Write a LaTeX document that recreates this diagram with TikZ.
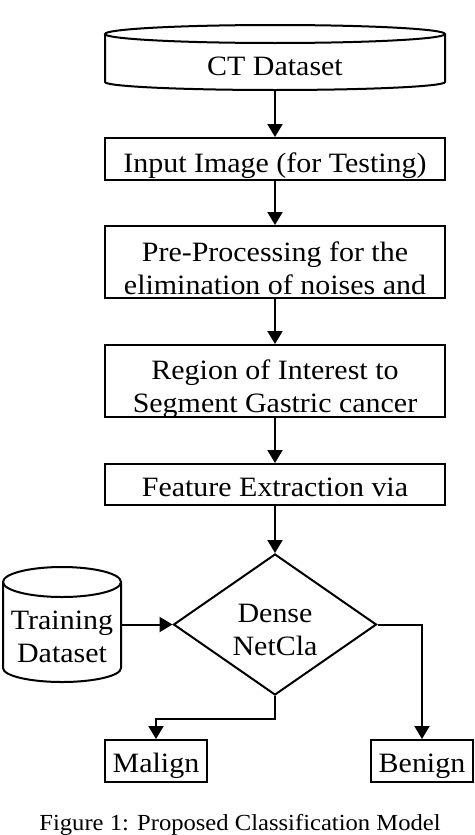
\documentclass[tikz,border=0pt]{standalone}
\usepackage{fontspec}
\setmainfont[FakeStretch=1.07]{Liberation Serif}
\usetikzlibrary{shapes.geometric,arrows.meta}

\begin{document}
\begin{tikzpicture}[x=1pt, y=-1pt,
    every node/.style={font=\fontsize{28}{33}\selectfont, inner sep=0pt},
    box/.style={rectangle, draw, line width=2pt, minimum width=340pt, align=center},
    outbox/.style={rectangle, draw, line width=2pt, minimum width=102pt, minimum height=42pt},
    arr/.style={-{Triangle[length=13pt,width=15pt]}, line width=2pt}]
    \useasboundingbox (0,0) rectangle (474,835);
    % CT dataset drum
    \node[minimum width=340pt, minimum height=65pt, text height=36pt, text depth=1pt] (ct) at (275,57.5) {CT Dataset};
    \draw[line width=2pt] (275,34) ellipse[x radius=170pt, y radius=9pt];
    \draw[line width=2pt] (105,34) -- (105,82) arc[start angle=180, end angle=360, x radius=170pt, y radius=8pt] -- (445,34);
    % main chain of steps
    \node[box, minimum height=42pt, text height=30pt, text depth=4pt] (input) at (275,159) {Input Image (for Testing)};
    \node[box, minimum height=72pt, text height=66pt, text depth=2pt] (pre) at (275,262) {Pre-Processing for the\\elimination of noises and};
    \node[box, minimum height=72pt, text height=66pt, text depth=4pt] (roi) at (275,381) {Region of Interest to\\Segment Gastric cancer};
    \node[box, minimum height=41pt, text height=29pt, text depth=6pt] (feat) at (275,484.5) {Feature Extraction via};
    % classifier
    \node[diamond, draw, line width=2pt, minimum width=203pt, minimum height=141pt, aspect=1.44, align=center, text height=62pt, text depth=1pt] (dec) at (275,624.5) {Dense\\NetCla};
    % training data drum
    \node[minimum width=118pt, minimum height=115pt, align=center, text height=76pt, text depth=1pt] (train) at (62,624.5) {Training\\Dataset};
    \draw[line width=2pt] (62,582) ellipse[x radius=59pt, y radius=15pt];
    \draw[line width=2pt] (3,582) -- (3,668) arc[start angle=180, end angle=360, x radius=59pt, y radius=14pt] -- (121,582);
    % outcomes
    \node[outbox, text height=28pt, text depth=6pt] (malign) at (156,761) {Malign};
    \node[outbox, text height=28pt, text depth=6pt] (benign) at (422,761) {Benign};
    % connectors
    \draw[arr] (ct.south) -- (input.north);
    \draw[arr] (input.south) -- (pre.north);
    \draw[arr] (pre.south) -- (roi.north);
    \draw[arr] (roi.south) -- (feat.north);
    \draw[arr] (feat.south) -- (dec.north);
    \draw[arr] (train.east) -- (dec.west);
    \draw[arr] (dec.south) -- ++(0,23) -| (malign.north);
    \draw[arr] (dec.east) -| (benign.north);
    % caption
    \node[font=\fontsize{23}{27}\selectfont, anchor=base] (cap) at (240,830) {Figure 1: Proposed Classification Model};
\end{tikzpicture}
\end{document}
